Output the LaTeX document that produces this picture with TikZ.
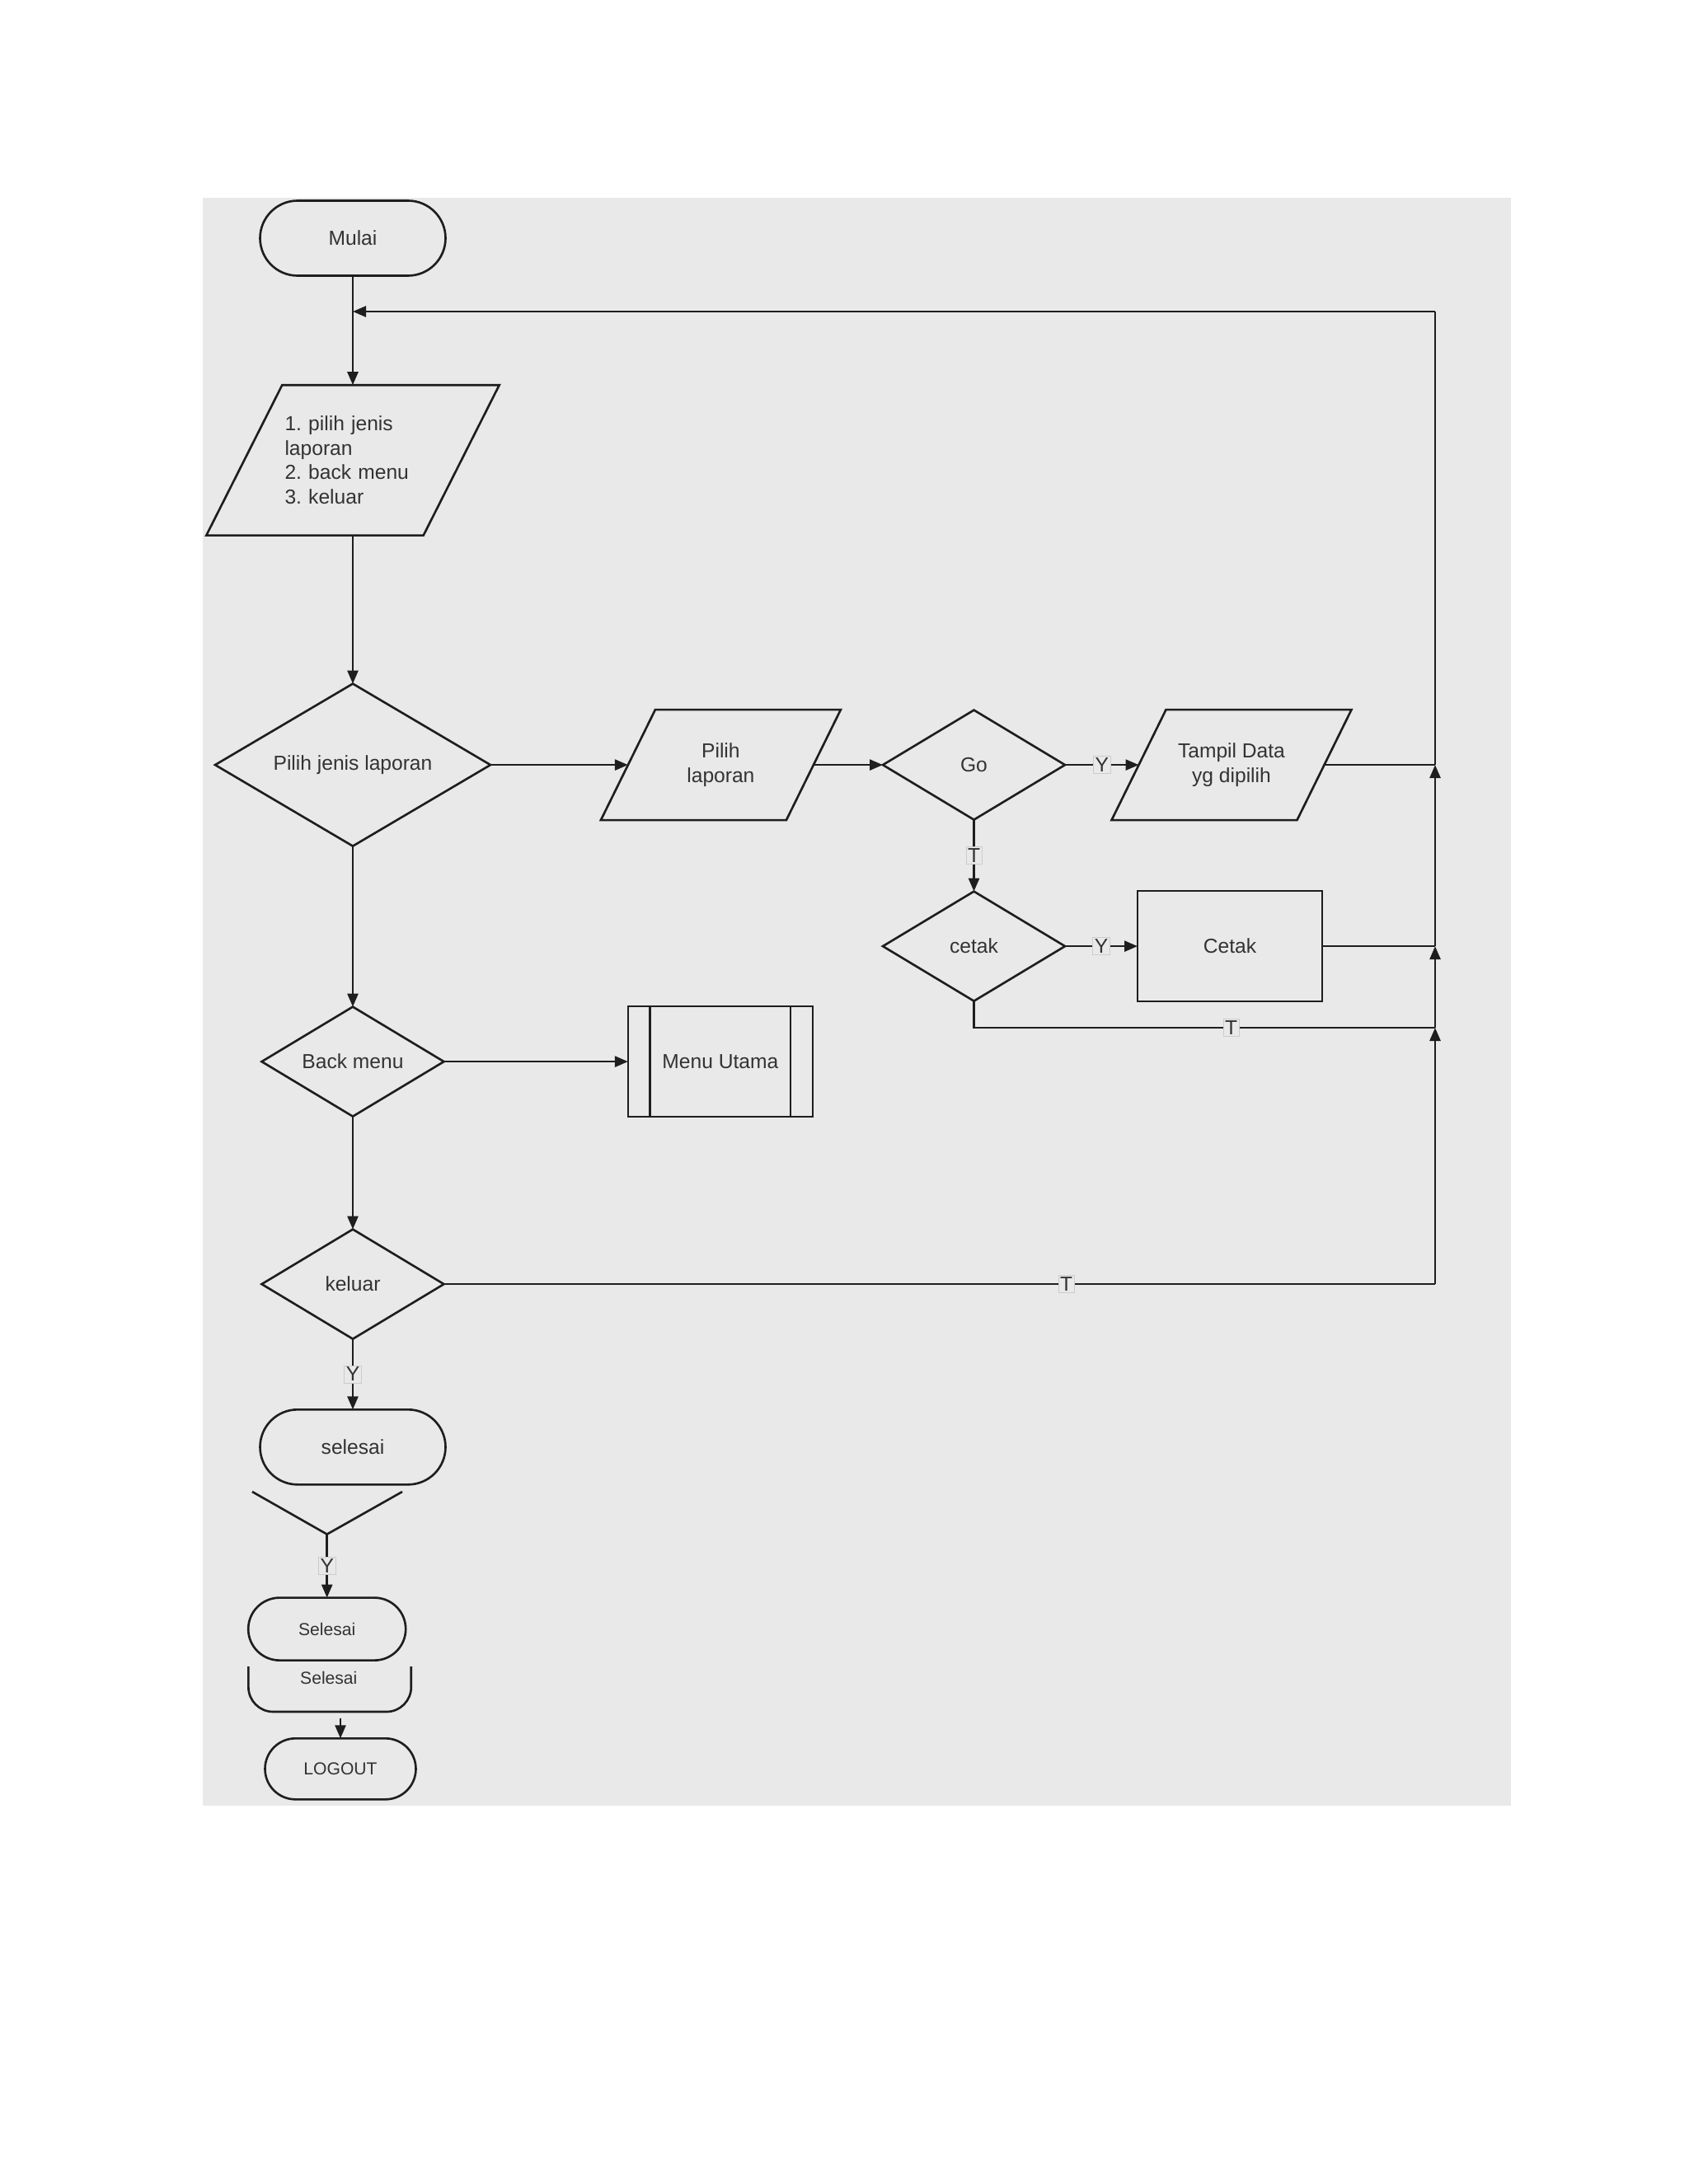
\documentclass[tikz,border=0pt]{standalone}
\usepackage{fontspec}
\setmainfont{Liberation Sans}
\usetikzlibrary{positioning,arrows.meta,shapes.geometric}
\definecolor{paper}{HTML}{E9E9E9}
\definecolor{ink}{HTML}{1E1E1E}
\frenchspacing
% jajaran genjang di sekitar node io (#2 = setengah kemiringan)
\newcommand{\ioframe}[2]{\draw[ink] ([xshift=-#2]#1.south west) -- ([xshift=#2]#1.north west) -- ([xshift=#2]#1.north east) -- ([xshift=-#2]#1.south east) -- cycle;}

\begin{document}
\begin{tikzpicture}[
            line width=0.75pt,
            font=\fontsize{7}{8.4}\selectfont,
            every node/.append style={outer sep=0pt},
            term/.style={rectangle, rounded corners=0.455cm, draw=ink, text=black!80, minimum width=2.25cm, minimum height=0.91cm, align=center},
            io/.style={rectangle, text=black!80, inner sep=1pt, minimum width=2.25cm, minimum height=1.34cm, align=center},
            decision/.style={diamond, draw=ink, text=black!80, aspect=1.66, inner sep=1pt, minimum width=2.21cm, minimum height=1.33cm, align=center},
            block/.style={rectangle, draw=ink, text=black!80, minimum width=2.24cm, minimum height=1.34cm, align=center},
            arrow/.style={-{Triangle[length=1.6mm,width=1.3mm]}, draw=ink},
            line/.style={draw=ink},
            lbl/.style={fill=paper, draw=black!20, line width=0.2pt, inner sep=0.6pt, text=black!80}
        ]
        \useasboundingbox (0,0) rectangle (20.48,-26.5);
        \fill[paper] (2.46,-2.40) rectangle (18.33,-21.91);

        \node[term] (mulai) at (4.28,-2.89) {Mulai};
        \node[io, minimum width=2.634cm, minimum height=1.824cm, text width=1.65cm, align=left, below=1.327cm of mulai] (pilihan) {1. pilih jenis\\laporan\\2. back menu\\3. keluar};
        \node[decision, aspect=1.7, minimum width=3.34cm, minimum height=1.97cm, below=1.80cm of pilihan] (jenis) {Pilih jenis laporan};
        \node[io, right=1.669cm of jenis] (pilih) {Pilih\\laporan};
        \node[decision, right=0.841cm of pilih] (go) {Go};
        \node[io, right=0.895cm of go] (tampil) {Tampil Data\\yg dipilih};
        \node[decision, below=0.87cm of go] (cetak) {cetak};
        \node[block, right=0.88cm of cetak] (print) {Cetak};
        \node[decision, below=1.95cm of jenis] (back) {Back menu};
        \node[block, right=2.234cm of back] (utama) {Menu Utama};
        \node[decision, below=1.37cm of back] (keluar) {keluar};
        \node[term, below=0.857cm of keluar] (selesai) {selesai};

        \ioframe{pilihan}{0.46cm}
        \ioframe{pilih}{0.33cm}
        \ioframe{tampil}{0.33cm}
        \draw[ink] ([xshift=0.268cm]utama.north west) -- ([xshift=0.268cm]utama.south west);
        \draw[ink] ([xshift=-0.268cm]utama.north east) -- ([xshift=-0.268cm]utama.south east);

        % bagian bawah
        \begin{scope}[font=\fontsize{6}{7}\selectfont]
        \node[term, rounded corners=0.38cm, minimum width=1.91cm, minimum height=0.76cm, below=1.373cm of selesai, xshift=-0.313cm] (selA) {Selesai};
        \node[text=black!80, inner sep=1pt] (selB) at ([xshift=0.021cm, yshift=-0.589cm]selA) {Selesai};
        \node[term, rounded corners=0.37cm, minimum width=1.83cm, minimum height=0.74cm, below=0.947cm of selA, xshift=0.163cm] (logout) {LOGOUT};
        \end{scope}

        \coordinate (xr) at (17.41,0);
        \coordinate (rtop) at (17.41,-3.78);
        \coordinate (join) at (4.28,-3.78);
        \coordinate (tline) at (17.41,-12.47);
        \coordinate (vl) at (3.06,-18.10);
        \coordinate (vtip) at (3.967,-18.616);
        \coordinate (vr) at (4.88,-18.10);
        \coordinate (lo) at ([yshift=0.244cm]logout.north);

        \draw[arrow] (mulai) -- (pilihan);
        \draw[arrow] (pilihan) -- (jenis);
        \draw[arrow] (jenis) -- (pilih);
        \draw[arrow] (pilih) -- (go);
        \draw[arrow] (go) -- node[lbl]{Y} (tampil);
        \draw[arrow] (go) -- node[lbl]{T} (cetak);
        \draw[arrow] (cetak) -- node[lbl]{Y} (print);
        \draw[arrow] (jenis) -- (back);
        \draw[arrow] (back) -- (utama);
        \draw[arrow] (back) -- (keluar);
        \draw[arrow] (keluar) -- node[lbl]{Y} (selesai);

        % jalur kembali
        \draw[line] (tampil) -- (tampil -| xr);
        \draw[line] (print) -- (print -| xr);
        \draw[line] (cetak) |- node[lbl, pos=0.779]{T} (tline);
        \draw[line] (keluar) -- node[lbl, pos=0.628]{T} (keluar -| xr);
        \draw[arrow] (keluar -| xr) -- (tline);
        \draw[arrow] (tline) -- (print -| xr);
        \draw[arrow] (print -| xr) -- (tampil -| xr);
        \draw[line] (tampil -| xr) -- (rtop);
        \draw[arrow] (rtop) -- (join);

        \draw[line] (vl) -- (vtip) -- (vr);
        \draw[arrow] (vtip) -- node[lbl]{Y} (selA);
        \draw[line, rounded corners=0.3cm] ([xshift=-0.974cm, yshift=0.134cm]selB.center) -- ([xshift=-0.974cm, yshift=-0.415cm]selB.center) -- ([xshift=1.0cm, yshift=-0.415cm]selB.center) -- ([xshift=1.0cm, yshift=0.134cm]selB.center);
        \draw[arrow] (lo) -- (logout);
\end{tikzpicture}
\end{document}
